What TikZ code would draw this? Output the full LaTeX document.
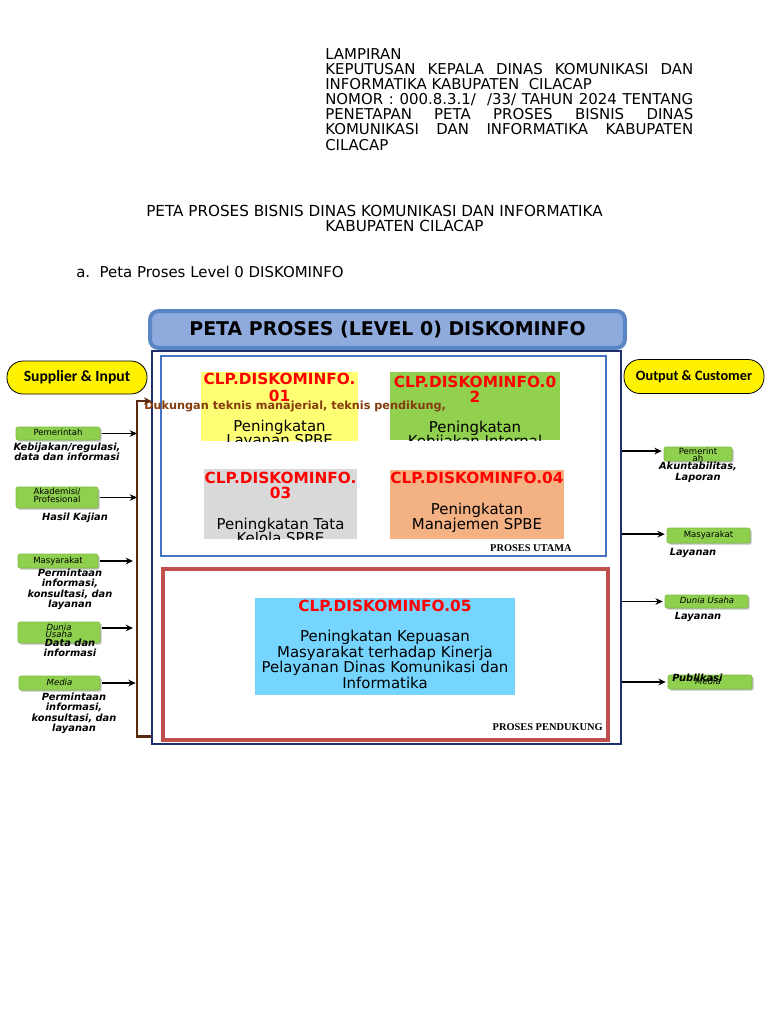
\documentclass[tikz,border=0pt]{standalone}
\usepackage{fontspec}
\setmainfont{DejaVu Sans}
\newfontfamily\calfont{Carlito}
\newfontfamily\serfont{Liberation Serif}
\usetikzlibrary{arrows.meta,shadows}
\definecolor{clpred}{HTML}{FF0000}
\definecolor{barfill}{HTML}{8FAADC}
\definecolor{barline}{HTML}{5A86C5}
\definecolor{navy}{HTML}{1F2F6E}
\definecolor{utama}{HTML}{4472C4}
\definecolor{pendukung}{HTML}{C0504D}
\definecolor{cyel}{HTML}{FFFF75}
\definecolor{cgrn}{HTML}{92D050}
\definecolor{cgry}{HTML}{D9D9D9}
\definecolor{corg}{HTML}{F4B183}
\definecolor{cblu}{HTML}{75D5FF}
\definecolor{gbox}{HTML}{8FD14F}
\definecolor{gline}{HTML}{7DBB45}
\definecolor{brn}{HTML}{5C2A0C}
\definecolor{dukung}{HTML}{843C0C}
\begin{document}
\begin{tikzpicture}[x=0.75pt,y=-0.75pt,
  hdr/.style={font=\fontsize{11.2}{11.4}\selectfont, inner sep=0, anchor=base west},
  pbox/.style={inner sep=0, draw=none},
  redtxt/.style={text=clpred, font=\bfseries\fontsize{11.5}{12}\selectfont, inner sep=0, anchor=base},
  blktxt/.style={font=\fontsize{11.2}{12}\selectfont, inner sep=0, anchor=base},
  grn/.style={fill=gbox, draw=gline, line width=0.4pt, rounded corners=1.5pt,
    drop shadow={shadow xshift=1.2pt, shadow yshift=-1.2pt, opacity=0.45, fill=black!55}, inner sep=0},
  gtxt/.style={font=\fontsize{6.4}{6.8}\selectfont, inner sep=0, anchor=base},
  gitxt/.style={font=\itshape\fontsize{6.4}{6.8}\selectfont, inner sep=0, anchor=base},
  lbl/.style={font=\bfseries\itshape\fontsize{7.4}{8}\selectfont, inner sep=0, anchor=base},
  pill/.style={fill=yellow, draw=black, line width=0.6pt, rounded corners=12pt, inner sep=0},
  arr/.style={-{Stealth[length=5.5pt,width=5pt]}, line width=1.1pt, black},
  tag/.style={font=\serfont\bfseries\fontsize{7.8}{8.5}\selectfont, inner sep=0, anchor=base east}
]
\useasboundingbox (0,0) rectangle (768,1024);
\fill[white] (0,0) rectangle (768,1024);

% header
\node[hdr] (h1) at (325,59.3) {LAMPIRAN};
\node[hdr] (h2) at (325,74.4) {\makebox[276pt][s]{KEPUTUSAN KEPALA DINAS KOMUNIKASI DAN}};
\node[hdr] (h3) at (325,89.5) {INFORMATIKA KABUPATEN~~CILACAP};
\node[hdr] (h4) at (325,104.7) {\makebox[276pt][s]{NOMOR : 000.8.3.1/~~/33/ TAHUN 2024 TENTANG}};
\node[hdr] (h5) at (325,119.8) {\makebox[276pt][s]{PENETAPAN PETA PROSES BISNIS DINAS}};
\node[hdr] (h6) at (325,134.9) {\makebox[276pt][s]{KOMUNIKASI DAN INFORMATIKA KABUPATEN}};
\node[hdr] (h7) at (325,150) {CILACAP};

\node[hdr, font=\fontsize{11.4}{11.6}\selectfont] (t1) at (146,216.5) {PETA PROSES BISNIS DINAS KOMUNIKASI DAN INFORMATIKA};
\node[hdr, font=\fontsize{11.4}{11.6}\selectfont] (t2) at (325,231.5) {KABUPATEN CILACAP};
\node[hdr] (t3) at (76,277.5) {a.~~Peta Proses Level 0 DISKOMINFO};

% title bar
\node[fill=barfill, draw=barline, line width=3pt, rounded corners=6pt, inner sep=0,
  minimum width=356pt, minimum height=27.5pt, font=\bfseries\fontsize{14.2}{16}\selectfont]
  (bar) at (387.5,329.5) {PETA PROSES (LEVEL 0) DISKOMINFO};

% outer frame and groups
\node[pbox, draw=navy, line width=1.1pt, minimum width=351.75pt, minimum height=294.75pt] (outer) at (386.5,547.5) {};
\node[pbox, draw=utama, line width=2.2pt, minimum width=333.75pt, minimum height=150pt] (gU) at (383.5,456) {};
\node[pbox, draw=pendukung, line width=2.3pt, minimum width=333.75pt, minimum height=128.25pt] (gP) at (385.5,654.5) {};
\node[tag] (tagU) at (572,551) {PROSES UTAMA};
\node[tag] (tagP) at (603,730.5) {PROSES PENDUKUNG};

% process boxes
\node[pbox, fill=cyel, minimum width=117.75pt, minimum height=51.75pt] (b1) at (279.5,406.5) {};
\node[pbox, fill=cgrn, minimum width=127.5pt, minimum height=51pt] (b2) at (475,406) {};
\node[pbox, fill=cgry, minimum width=114.75pt, minimum height=52.5pt] (b3) at (280.5,504) {};
\node[pbox, fill=corg, minimum width=130.5pt, minimum height=51.75pt] (b4) at (477,504.5) {};
\node[pbox, fill=cblu, minimum width=195pt, minimum height=72.75pt] (b5) at (385,646.5) {};

\begin{scope}
\clip (b1.south west) rectangle (b1.north east);
\node[redtxt] (b1r1) at (279.5,384.5) {CLP.DISKOMINFO.};
\node[redtxt] (b1r2) at (279.5,401) {01};
\node[blktxt] (b1k1) at (279.5,431) {Peningkatan};
\node[blktxt] (b1k2) at (279.5,445.5) {Layanan SPBE};
\end{scope}
\begin{scope}
\clip (b2.south west) rectangle (b2.north east);
\node[redtxt] (b2r1) at (475,387.5) {CLP.DISKOMINFO.0};
\node[redtxt] (b2r2) at (475,402.5) {2};
\node[blktxt] (b2k1) at (475,432) {Peningkatan};
\node[blktxt] (b2k2) at (475,446.5) {Kebijakan Internal};
\end{scope}
\begin{scope}
\clip (b3.south west) rectangle (b3.north east);
\node[redtxt] (b3r1) at (280.5,483.5) {CLP.DISKOMINFO.};
\node[redtxt] (b3r2) at (280.5,498.5) {03};
\node[blktxt] (b3k1) at (280.5,529) {Peningkatan Tata};
\node[blktxt] (b3k2) at (280.5,543.5) {Kelola SPBE};
\end{scope}
\node[redtxt] (b4r1) at (477,483.5) {CLP.DISKOMINFO.04};
\node[blktxt] (b4k1) at (477,514) {Peningkatan};
\node[blktxt] (b4k2) at (477,529.5) {Manajemen SPBE};

\node[redtxt] (b5r1) at (385,611.5) {CLP.DISKOMINFO.05};
\node[blktxt] (b5k1) at (385,641.5) {Peningkatan Kepuasan};
\node[blktxt] (b5k2) at (385,657) {Masyarakat terhadap Kinerja};
\node[blktxt] (b5k3) at (385,672.5) {Pelayanan Dinas Komunikasi dan};
\node[blktxt] (b5k4) at (385,688) {Informatika};

% overlay text
\node[inner sep=0, anchor=base west, text=dukung, font=\bfseries\fontsize{8.45}{9}\selectfont]
  (duk) at (144,409.5) {Dukungan teknis manajerial, teknis pendikung,};

% pills
\node[pill, minimum width=105pt, minimum height=24.75pt, font=\calfont\bfseries\fontsize{11.7}{13}\selectfont] (sup) at (77,377.5) {Supplier \& Input};
\node[pill, minimum width=105pt, minimum height=25.5pt, font=\calfont\bfseries\fontsize{10.7}{12}\selectfont] (out) at (694,376.5) {Output \& Customer};

% bracket
\coordinate (brtop) at (137,401);
\coordinate (brbot) at (137,736.5);
\draw[brn, line width=2pt, -{Stealth[length=5.5pt,width=5.5pt]}]
  (brbot -| outer.west) -- (brbot) -- (brtop) -- (brtop -| outer.west);

% left suppliers
\node[grn, minimum width=63pt, minimum height=9.75pt] (pL1) at (58,433.5) {};
\node[gtxt] at (58,435.9) {Pemerintah};
\node[grn, minimum width=61.5pt, minimum height=15.75pt] (pL2) at (57,497.5) {};
\begin{scope}
\clip (pL2.south west) rectangle (pL2.north east);
\node[gtxt] at (57,494.5) {Akademisi/};
\node[gtxt] at (57,502.8) {Profesional};
\end{scope}
\node[grn, minimum width=60pt, minimum height=10.5pt] (pL3) at (58,561) {};
\node[gtxt] at (58,563.4) {Masyarakat};
\node[grn, minimum width=61.5pt, minimum height=15.75pt] (pL4) at (59,632.5) {};
\node[gitxt] at (59,630.7) {Dunia};
\node[gitxt] at (59,637.3) {Usaha};
\node[grn, minimum width=60.75pt, minimum height=10.5pt] (pL5) at (59.5,683) {};
\node[gitxt] at (59.5,685.4) {Media};

\node[lbl] at (67,450) {Kebijakan/regulasi,};
\node[lbl] at (67,460) {data dan informasi};
\node[lbl] at (75,520.5) {Hasil Kajian};
\node[lbl] at (70,576) {Permintaan};
\node[lbl] at (70,586.5) {informasi,};
\node[lbl] at (70,597) {konsultasi, dan};
\node[lbl] at (70,607.5) {layanan};
\node[lbl] at (70,646) {Data dan};
\node[lbl] at (70,656.5) {informasi};
\node[lbl] at (74,700) {Permintaan};
\node[lbl] at (74,710.5) {informasi,};
\node[lbl] at (74,721) {konsultasi, dan};
\node[lbl] at (74,731.5) {layanan};

\draw[arr] ([xshift=1pt]pL1.east) -- (pL1.east -| brtop);
\draw[arr] ([xshift=1pt]pL2.east) -- (pL2.east -| brtop);
\draw[arr] ([xshift=1pt]pL3.east) -- ([xshift=-3pt]pL3.east -| brtop);
\draw[arr] ([xshift=1pt,yshift=3.4pt]pL4.east) -- ([xshift=-3pt,yshift=3.4pt]pL4.east -| brtop);
\draw[arr] ([xshift=1.5pt]pL5.east) -- ([xshift=-1pt]pL5.east -| brtop);

% right customers
\node[grn, minimum width=51pt, minimum height=10.5pt] (pR1) at (698,454) {};
\begin{scope}
\clip (pR1.south west) rectangle (pR1.north east);
\node[gtxt] at (698,454.5) {Pemerint};
\node[gtxt] at (698,461.5) {ah};
\end{scope}
\node[grn, minimum width=62.25pt, minimum height=11.25pt] (pR2) at (708.5,535.5) {};
\node[gtxt] at (708.5,537.9) {Masyarakat};
\node[grn, minimum width=62.25pt, minimum height=9.75pt] (pR3) at (706.5,601.5) {};
\node[gitxt] at (707,603.9) {Dunia Usaha};
\node[grn, minimum width=63pt, minimum height=10.5pt] (pR4) at (710,682) {};
\node[gitxt] at (708,684.6) {Media};
\node[lbl, anchor=base west] at (672,681.5) {Publikasi};

\node[lbl] at (698,469.5) {Akuntabilitas,};
\node[lbl] at (698,480) {Laporan};
\node[lbl] at (693,555) {Layanan};
\node[lbl] at (698,619) {Layanan};

\draw[arr] ([yshift=2.2pt]pR1.west -| outer.east) -- ([xshift=-1.5pt,yshift=2.2pt]pR1.west);
\draw[arr] ([yshift=1pt]pR2.west -| outer.east) -- ([xshift=-1.5pt,yshift=1pt]pR2.west);
\draw[arr] (pR3.west -| outer.east) -- ([xshift=-1.5pt]pR3.west);
\draw[arr] (pR4.west -| outer.east) -- ([xshift=-1.5pt]pR4.west);
\end{tikzpicture}
\end{document}
